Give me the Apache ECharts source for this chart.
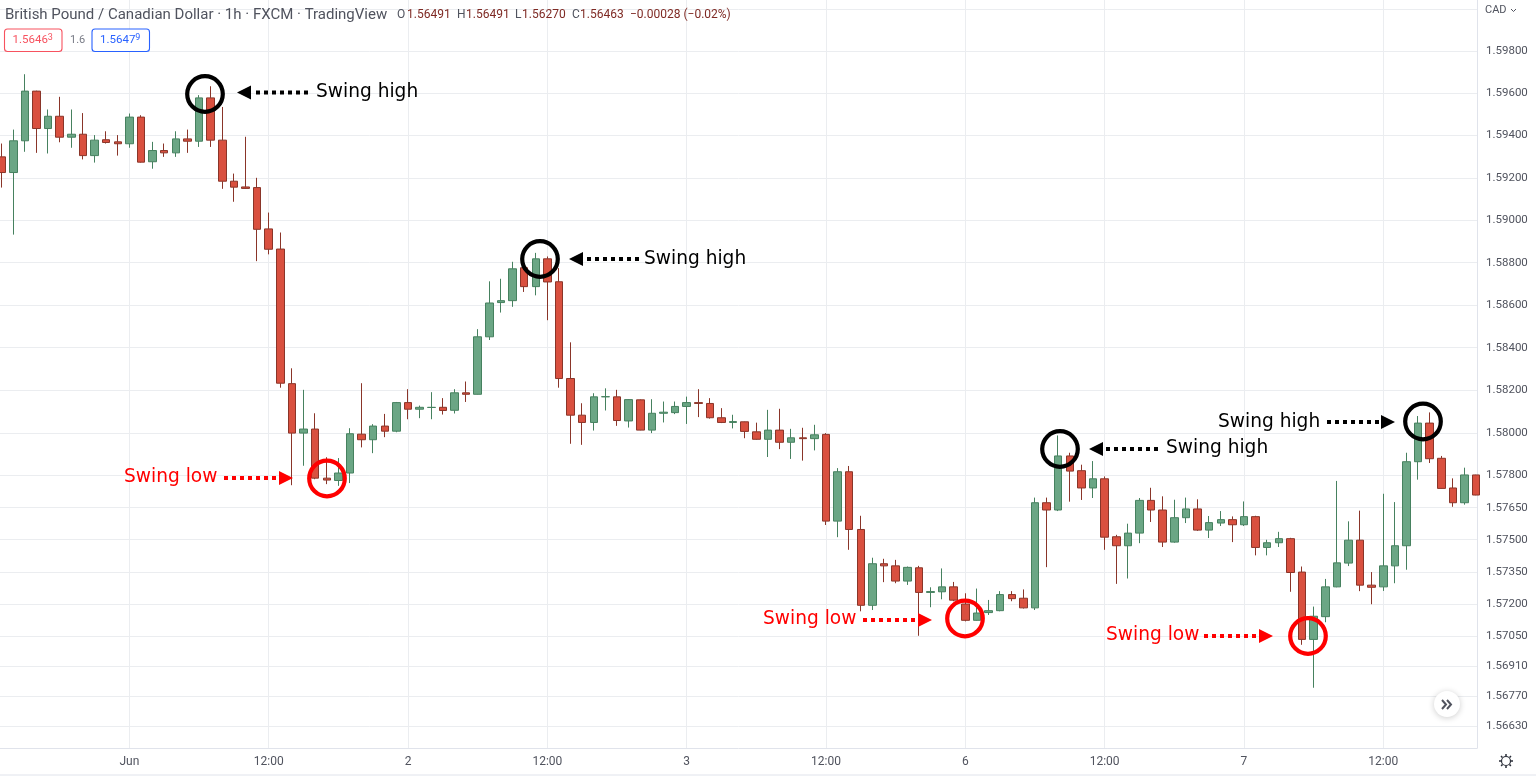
<!DOCTYPE html>
<html>
<head>
    <meta charset="UTF-8">
    <title>GBP/CAD swing highs and lows</title>
    <style type="text/css">
        html, body { margin: 0; padding: 0; background: #fff; }
        #mychart { width: 1536px; height: 776px; }
    </style>
</head>
<body>
<div id="mychart"></div>
<script src="https://cdn.jsdelivr.net/npm/echarts@6/dist/echarts.min.js"></script>
<script>
    // hourly candles
    var opens = [1.59299,1.59225,1.59375,1.59610,1.59433,1.59491,1.59392,1.59406,1.59305,1.59380,
        1.59370,1.59361,1.59487,1.59276,1.59329,1.59318,1.59384,1.59373,1.59578,1.59378,
        1.59184,1.59157,1.59154,1.58959,1.58864,1.58231,1.57999,1.58018,1.57788,1.57777,
        1.57812,1.57994,1.57968,1.58032,1.58008,1.58142,1.58111,1.58119,1.58120,1.58106,
        1.58188,1.58181,1.58451,1.58612,1.58621,1.58776,1.58687,1.58818,1.58710,1.58255,
        1.58083,1.58049,1.58169,1.58169,1.58056,1.58155,1.58013,1.58092,1.58095,1.58124,
        1.58142,1.58138,1.58071,1.58049,1.58052,1.58005,1.57970,1.58013,1.57956,1.57977,
        1.57973,1.57993,1.57587,1.57818,1.57548,1.57194,1.57388,1.57378,1.57307,1.57369,
        1.57254,1.57257,1.57280,1.57200,1.57124,1.57160,1.57169,1.57244,1.57227,1.57182,
        1.57673,1.57639,1.57892,1.57823,1.57742,1.57785,1.57514,1.57472,1.57531,1.57684,
        1.57639,1.57489,1.57603,1.57644,1.57545,1.57578,1.57594,1.57570,1.57608,1.57464,
        1.57486,1.57505,1.57349,1.57035,1.57141,1.57280,1.57391,1.57498,1.57288,1.57280,
        1.57378,1.57472,1.57865,1.58046,1.57881,1.57742,1.57673,1.57803];
    var closes = [1.59225,1.59375,1.59610,1.59433,1.59491,1.59392,1.59406,1.59305,1.59378,1.59367,
        1.59361,1.59487,1.59274,1.59329,1.59318,1.59384,1.59373,1.59578,1.59378,1.59184,
        1.59156,1.59150,1.58957,1.58863,1.58233,1.57999,1.58018,1.57788,1.57779,1.57812,
        1.57996,1.57968,1.58032,1.58008,1.58142,1.58111,1.58120,1.58120,1.58105,1.58188,
        1.58181,1.58451,1.58610,1.58621,1.58771,1.58687,1.58818,1.58709,1.58255,1.58083,
        1.58049,1.58169,1.58170,1.58058,1.58156,1.58013,1.58092,1.58097,1.58124,1.58142,
        1.58138,1.58071,1.58049,1.58053,1.58007,1.57970,1.58013,1.57956,1.57977,1.57973,
        1.57991,1.57587,1.57818,1.57548,1.57194,1.57388,1.57378,1.57307,1.57371,1.57254,
        1.57258,1.57280,1.57218,1.57124,1.57158,1.57169,1.57244,1.57225,1.57182,1.57673,
        1.57639,1.57892,1.57821,1.57742,1.57785,1.57512,1.57472,1.57531,1.57684,1.57639,
        1.57489,1.57603,1.57644,1.57545,1.57580,1.57594,1.57570,1.57608,1.57464,1.57486,
        1.57505,1.57347,1.57035,1.57143,1.57280,1.57392,1.57498,1.57288,1.57278,1.57378,
        1.57472,1.57865,1.58046,1.57879,1.57740,1.57673,1.57803,1.57709];
    var lows = [1.59154,1.58932,1.59323,1.59318,1.59315,1.59368,1.59342,1.59287,1.59272,1.59362,
        1.59305,1.59342,1.59272,1.59243,1.59299,1.59299,1.59318,1.59346,1.59346,1.59148,
        1.59087,1.59148,1.58807,1.58839,1.58212,1.57755,1.57846,1.57783,1.57760,1.57752,
        1.57765,1.57932,1.57905,1.57980,1.58003,1.58064,1.58069,1.58064,1.58086,1.58091,
        1.58145,1.58180,1.58436,1.58565,1.58592,1.58662,1.58646,1.58529,1.58212,1.57949,
        1.57944,1.58011,1.58105,1.58033,1.58025,1.58012,1.57999,1.58049,1.58088,1.58042,
        1.58074,1.58067,1.58046,1.58021,1.57975,1.57968,1.57887,1.57924,1.57878,1.57870,
        1.57918,1.57569,1.57512,1.57453,1.57166,1.57172,1.57302,1.57297,1.57289,1.57052,
        1.57185,1.57222,1.57213,1.57119,1.57122,1.57149,1.57166,1.57213,1.57179,1.57172,
        1.57372,1.57634,1.57678,1.57686,1.57695,1.57453,1.57294,1.57319,1.57484,1.57583,
        1.57466,1.57486,1.57578,1.57541,1.57508,1.57564,1.57489,1.57564,1.57427,1.57427,
        1.57466,1.57257,1.57010,1.56810,1.57115,1.57278,1.57377,1.57260,1.57199,1.57261,
        1.57297,1.57360,1.57781,1.57859,1.57739,1.57654,1.57664,1.57708];
    var highs = [1.59362,1.59428,1.59690,1.59612,1.59523,1.59583,1.59523,1.59506,1.59402,1.59420,
        1.59402,1.59504,1.59496,1.59370,1.59362,1.59420,1.59428,1.59591,1.59633,1.59535,
        1.59220,1.59394,1.59200,1.59036,1.58942,1.58303,1.58202,1.58092,1.57886,1.57882,
        1.58022,1.58233,1.58041,1.58089,1.58145,1.58205,1.58128,1.58191,1.58163,1.58205,
        1.58241,1.58487,1.58712,1.58724,1.58804,1.58787,1.58846,1.58829,1.58774,1.58425,
        1.58139,1.58186,1.58209,1.58202,1.58158,1.58157,1.58158,1.58147,1.58147,1.58170,
        1.58205,1.58163,1.58116,1.58085,1.58053,1.58048,1.58108,1.58113,1.58019,1.58024,
        1.58038,1.57999,1.57835,1.57845,1.57612,1.57416,1.57411,1.57406,1.57375,1.57378,
        1.57278,1.57366,1.57303,1.57250,1.57272,1.57219,1.57260,1.57260,1.57268,1.57697,
        1.57697,1.57988,1.57907,1.57851,1.57868,1.57796,1.57523,1.57575,1.57695,1.57743,
        1.57703,1.57687,1.57697,1.57689,1.57611,1.57634,1.57609,1.57679,1.57612,1.57500,
        1.57537,1.57509,1.57375,1.57188,1.57317,1.57775,1.57586,1.57636,1.57349,1.57715,
        1.57676,1.57907,1.58079,1.58096,1.57892,1.57787,1.57837,1.57804];

    var priceTicks = [1.598,1.596,1.594,1.592,1.59,1.588,1.586,1.584,1.582,1.58,1.578,
        1.5765,1.575,1.5735,1.572,1.5705,1.5691,1.5677,1.5663];
    var gridPrices = [1.6].concat(priceTicks);
    var timeTicks = [11,23,35,47,59,71,83,95,107,119];
    var timeLabels = ['Jun','12:00','2','12:00','3','12:00','6','12:00','7','12:00'];

    var candles = opens.map(function (o, i) {
        return [i, o, closes[i], lows[i], highs[i]];
    });

    var UI_FONT = 'Roboto, sans-serif';
    var NOTE_FONT = '"DejaVu Sans", sans-serif';

    function note(str, x, y, color) {
        return {type: 'text', z: 20, x: x, y: y + 1, style: {
            text: str, fill: color, font: '18.6px ' + NOTE_FONT,
            textVerticalAlign: 'middle'
        }};
    }
    function ring(cx, cy, color) {
        return {type: 'circle', z: 20, shape: {cx: cx, cy: cy, r: 17.8},
            style: {fill: 'transparent', stroke: color, lineWidth: 4.2}};
    }
    // dotted line with a triangle head, tip is where it points
    function arrow(x1, x2, tip, y, color) {
        var base = tip > x2 ? tip - 14 : tip + 14;
        return [
            {type: 'line', z: 20, shape: {x1: x1, y1: y, x2: x2, y2: y},
                style: {stroke: color, lineWidth: 4, lineDash: [4, 4]}},
            {type: 'polygon', z: 20, shape: {points: [[tip, y], [base, y - 7], [base, y + 7]]},
                style: {fill: color}}
        ];
    }
    function label(str, x, y, color, size) {
        return {type: 'text', z: 21, x: x, y: y, style: {
            text: str, fill: color, font: (size || 12) + 'px ' + UI_FONT,
            textVerticalAlign: 'middle'
        }};
    }
    function priceBox(x, main, sup, color) {
        return [
            {type: 'rect', z: 21, shape: {x: x, y: 29, width: 57.5, height: 22.5, r: 3},
                style: {fill: '#fff', stroke: color, lineWidth: 1.1}},
            {type: 'text', z: 22, x: x + 8, y: 40.5, style: {
                text: '{a|' + main + '}{b|' + sup + '}',
                textVerticalAlign: 'middle',
                rich: {
                    a: {fill: color, font: '11.5px ' + UI_FONT},
                    b: {fill: color, font: '9px ' + UI_FONT, padding: [0, 0, 5, 0]}
                }
            }}
        ];
    }

    var RED = '#ff0000', BLACK = '#000000';
    var overlay = [].concat(
        ring(205, 94, BLACK), arrow(256, 309, 237, 92.5, BLACK), note('Swing high', 316, 91, BLACK),
        ring(540, 259, BLACK), arrow(587, 640, 569, 259, BLACK), note('Swing high', 644, 258, BLACK),
        ring(1060, 449, BLACK), arrow(1106, 1159, 1089, 449, BLACK), note('Swing high', 1166, 447, BLACK),
        ring(1423, 421.5, BLACK), arrow(1327, 1380, 1395, 422, BLACK), note('Swing high', 1218, 421, BLACK),
        ring(327, 478.5, RED), arrow(224, 278, 293, 478, RED), note('Swing low', 124, 476, RED),
        ring(965, 618.5, RED), arrow(863, 917, 932, 620, RED), note('Swing low', 763, 618, RED),
        ring(1308, 636, RED), arrow(1204, 1258, 1273, 636, RED), note('Swing low', 1106, 634, RED),
        // header line
        label('British Pound / Canadian Dollar · 1h · FXCM · TradingView', 5, 15, '#50535e', 15),
        label('O', 397, 15, '#50535e'), label('1.56491', 407, 15, '#7f2a24'),
        label('H', 457, 15, '#50535e'), label('1.56491', 466, 15, '#7f2a24'),
        label('L', 515, 15, '#50535e'), label('1.56270', 522, 15, '#7f2a24'),
        label('C', 572, 15, '#50535e'), label('1.56463', 580, 15, '#7f2a24'),
        label('−0.00028 (−0.02%)', 630, 15, '#7f2a24'),
        priceBox(4.5, '1.5646', '3', '#f7525f'),
        label('1.6', 70, 40.5, '#787b86', 11),
        priceBox(92, '1.5647', '9', '#2962ff'),
        label('CAD', 1485, 10, '#50535e', 11),
        {type: 'polyline', z: 21, shape: {points: [[1511, 9], [1513.5, 11.5], [1516, 9]]},
            style: {stroke: '#50535e', lineWidth: 1, fill: 'none'}},
        // bottom strip
        {type: 'line', z: 21, shape: {x1: 0, y1: 775, x2: 1536, y2: 775},
            style: {stroke: '#e0e3eb', lineWidth: 1}},
        // scroll button
        {type: 'circle', z: 21, shape: {cx: 1447, cy: 704, r: 13},
            style: {fill: '#fff', shadowBlur: 6, shadowColor: 'rgba(0,0,0,0.2)', shadowOffsetY: 1}},
        {type: 'polyline', z: 22, shape: {points: [[1442, 700], [1446, 704.5], [1442, 709]]},
            style: {stroke: '#50535e', lineWidth: 2, fill: 'none'}},
        {type: 'polyline', z: 22, shape: {points: [[1447, 700], [1451, 704.5], [1447, 709]]},
            style: {stroke: '#50535e', lineWidth: 2, fill: 'none'}},
        // settings gear
        {type: 'circle', z: 21, shape: {cx: 1506, cy: 761, r: 4.5},
            style: {fill: '#fff', stroke: '#2a2e39', lineWidth: 1.2}},
        {type: 'line', z: 21, shape: {x1: 1506, y1: 754, x2: 1506, y2: 768},
            style: {stroke: '#2a2e39', lineWidth: 1.5, lineDash: [2, 10]}},
        {type: 'line', z: 21, shape: {x1: 1499, y1: 761, x2: 1513, y2: 761},
            style: {stroke: '#2a2e39', lineWidth: 1.5, lineDash: [2, 10]}},
        {type: 'line', z: 21, shape: {x1: 1501, y1: 756, x2: 1511, y2: 766},
            style: {stroke: '#2a2e39', lineWidth: 1.5, lineDash: [2, 10]}},
        {type: 'line', z: 21, shape: {x1: 1511, y1: 756, x2: 1501, y2: 766},
            style: {stroke: '#2a2e39', lineWidth: 1.5, lineDash: [2, 10]}}
    );

    var gridLine = {show: true, lineStyle: {color: '#ebedf0', width: 1}};
    var edgeLine = {show: true, onZero: false, lineStyle: {color: '#e0e3eb', width: 1}};

    var option = {
        backgroundColor: '#fff',
        animation: false,
        grid: {left: 0, top: 0, width: 1477, height: 748},
        xAxis: {
            type: 'value',
            min: -0.146,
            max: 127.07,
            axisLine: edgeLine,
            axisTick: {show: false, customValues: timeTicks},
            splitLine: gridLine,
            axisLabel: {
                customValues: timeTicks,
                margin: 8,
                color: '#50535e',
                fontFamily: 'Roboto',
                fontSize: 12,
                hideOverlap: false,
                formatter: function (v) {
                    return timeLabels[timeTicks.indexOf(v)];
                }
            }
        },
        yAxis: {
            type: 'log',
            position: 'right',
            min: 1.5653,
            max: 1.60042,
            axisLine: edgeLine,
            axisTick: {show: false, customValues: gridPrices},
            splitLine: gridLine,
            axisLabel: {
                customValues: priceTicks,
                margin: 9,
                color: '#50535e',
                fontFamily: 'Roboto',
                fontSize: 11.5,
                padding: [2, 0, 0, 0],
                formatter: function (v) {
                    return v.toFixed(5);
                }
            }
        },
        series: [{
            type: 'candlestick',
            data: candles,
            encode: {x: 0, y: [1, 2, 3, 4]},
            barWidth: 8,
            itemStyle: {
                color: '#6ba685',
                color0: '#d9503f',
                borderColor: '#46815f',
                borderColor0: '#8a3529',
                borderWidth: 1
            }
        }],
        graphic: overlay
    };

    var mychart = echarts.init(document.getElementById('mychart'), null, {renderer: 'canvas'});
    mychart.setOption(option);
</script>
</body>
</html>
